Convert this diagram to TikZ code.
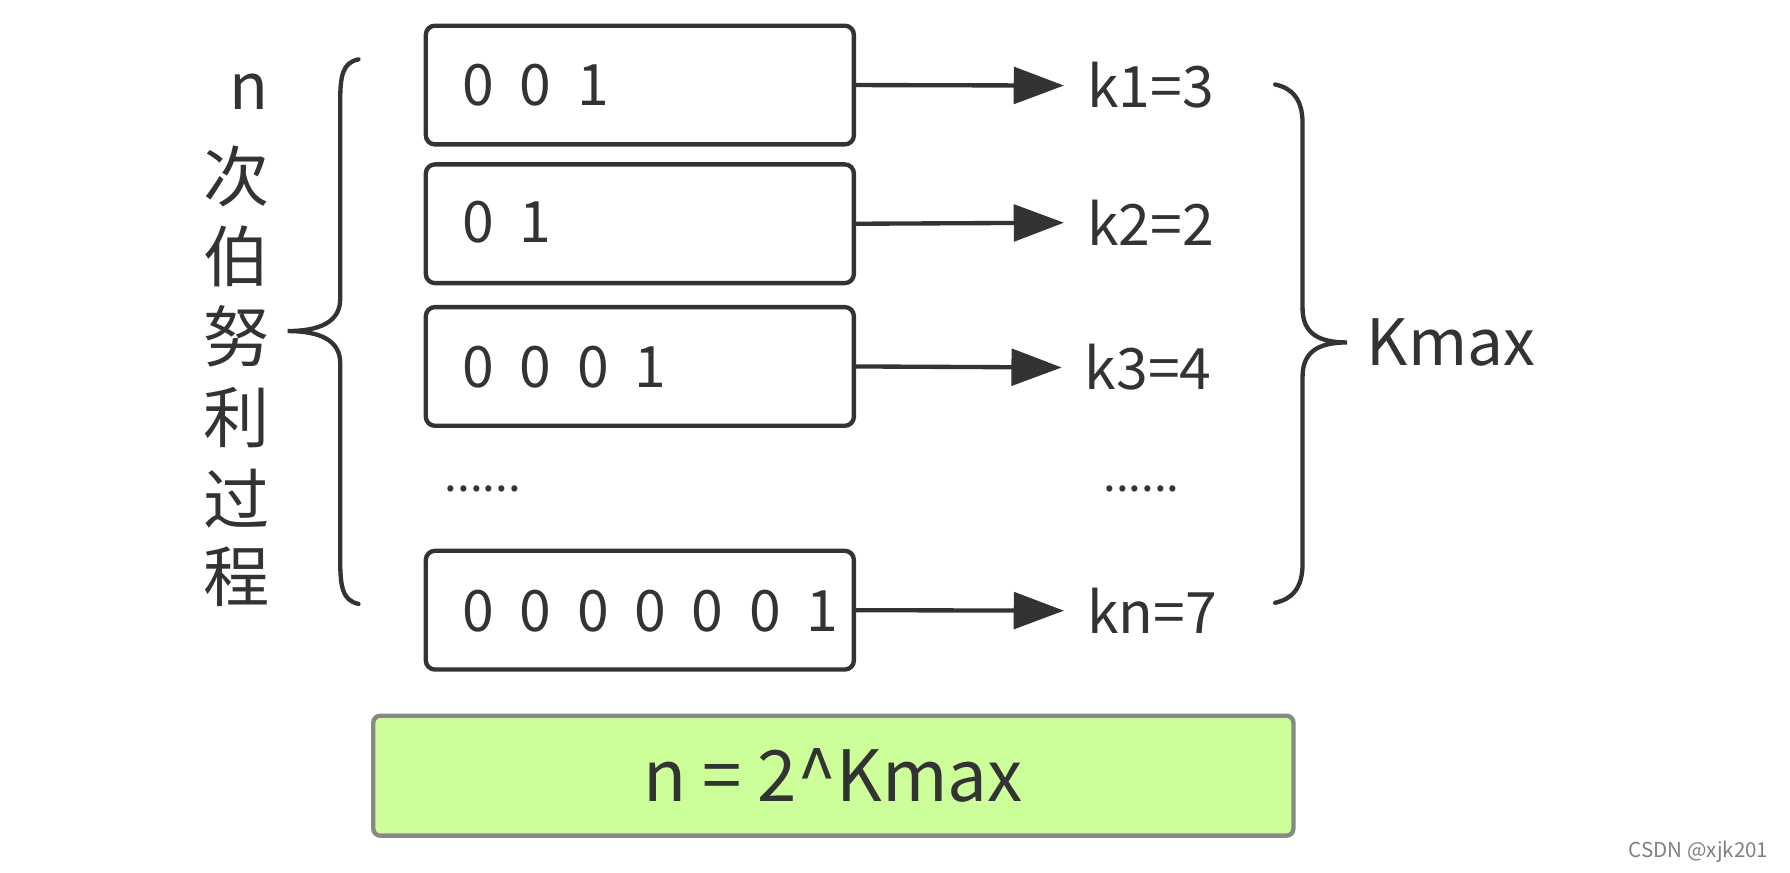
\documentclass[tikz,border=0pt]{standalone}
\usepackage{fontspec}
\setmainfont{Noto Sans CJK SC}
\usetikzlibrary{arrows.meta}
\definecolor{ink}{HTML}{333333}
\newcommand{\bsp}{\hspace{0.45em}}
\begin{document}
\begin{tikzpicture}[x=0.5pt,y=-0.5pt,
  bitbox/.style={draw=ink,line width=1.9pt,rounded corners=4pt,minimum width=187.5pt,minimum height=52pt,inner sep=0pt},
  bits/.style={text=ink,font=\fontsize{25}{25}\selectfont,anchor=west},
  klabel/.style={text=ink,font=\fontsize{25}{25}\selectfont,anchor=west,inner sep=0pt},
  arr/.style={draw=ink,line width=1.9pt,shorten >=10pt,-{Triangle[length=22pt,width=16pt]}},
  brace/.style={draw=ink,line width=1.9pt,line cap=round}]
\useasboundingbox (0,0) rectangle (1568,764);
% boxes
\node[bitbox] (b1) at (560.5,74.5) {};
\node[bitbox] (b2) at (560.5,196) {};
\node[bitbox] (b3) at (560.5,321) {};
\node[bitbox] (b5) at (560.5,534.5) {};
\node[bits] (t1) at (398,75) {0\bsp0\bsp1};
\node[bits] (t2) at (398,195) {0\bsp1};
\node[bits] (t3) at (398,322) {0\bsp0\bsp0\bsp1};
\node[bits] (t5) at (398,535) {0\bsp0\bsp0\bsp0\bsp0\bsp0\bsp1};
% labels
\node[klabel] (k1) at (952,75) {k1=3};
\node[klabel] (k2) at (952,195) {k2=2};
\node[klabel] (k3) at (950,322) {k3=4};
\node[klabel] (k5) at (952,535) {kn=7};
\draw[arr] (b1.east) -- (k1.west);
\draw[arr] (b2.east) -- (k2.west);
\draw[arr] (b3.east) -- (k3.west);
\draw[arr] (b5.east) -- (k5.west);
\node[text=ink,font=\fontsize{20}{20}\selectfont] (d1) at (423,428) {......};
\node[text=ink,font=\fontsize{20}{20}\selectfont] (d2) at (1000,428) {......};
% left brace
\draw[brace] (314,52) .. controls (300,55) and (298,66) .. (298,90) -- (298,262)
  .. controls (298,282) and (280,290) .. (252,290)
  .. controls (280,290) and (298,298) .. (298,318) -- (298,490)
  .. controls (298,514) and (300,526) .. (314,529);
% right brace
\draw[brace] (1117,74) .. controls (1131,77) and (1141,86) .. (1141,108) -- (1141,270)
  .. controls (1141,292) and (1155,300) .. (1180,300)
  .. controls (1155,300) and (1141,308) .. (1141,330) -- (1141,494)
  .. controls (1141,516) and (1131,525) .. (1117,528);
\node[text=ink,font=\fontsize{28}{28}\selectfont,anchor=west,inner sep=0pt] (kmax) at (1197,300) {Kmax};
% vertical label
\node[text=ink,font=\fontsize{28}{28}\selectfont] (vn) at (218,80) {n};
\foreach \c/\y [count=\i] in {次/155,伯/225,努/295,利/366,过/437,程/505}
  \node[text=ink,font=\fontsize{29}{29}\selectfont] (v\i) at (207,\y) {\c};
% result
\node[draw={rgb,255:red,136;green,136;blue,136},fill={rgb,255:red,204;green,255;blue,153},line width=1.9pt,rounded corners=3pt,minimum width=403pt,minimum height=52.5pt,text=ink,font=\fontsize{31}{31}\selectfont] (res) at (730,679.5) {n = 2\^{}Kmax};
\node[text=gray,font=\fontsize{9}{9}\selectfont,anchor=east] (wm) at (1556,746) {CSDN @xjk201};
\end{tikzpicture}
\end{document}
